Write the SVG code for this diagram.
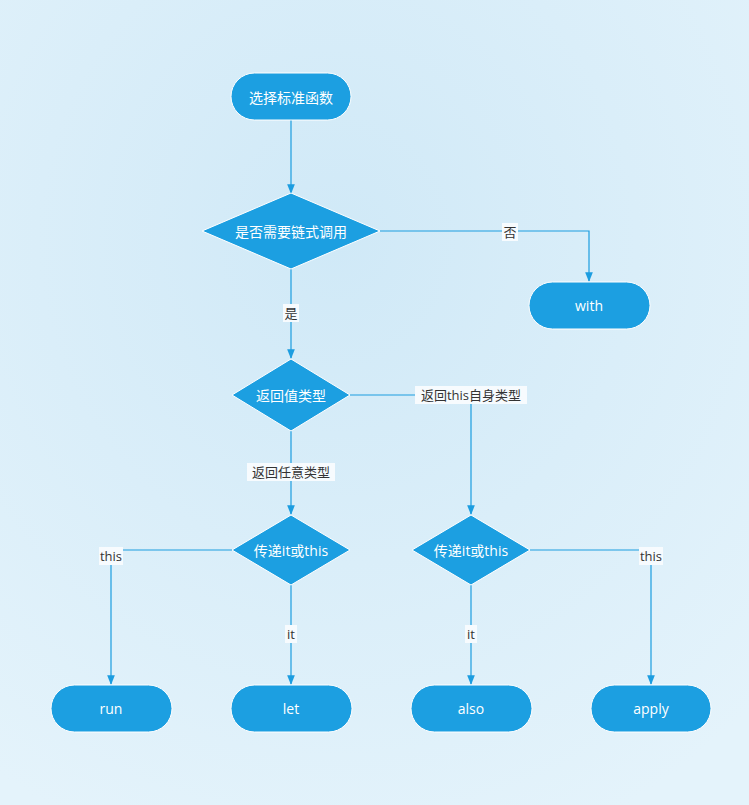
<svg xmlns="http://www.w3.org/2000/svg" width="749" height="805" viewBox="0 0 749 805">
<defs>
<radialGradient id="bg" cx="0.45" cy="0.3" r="0.8"><stop offset="0" stop-color="#d0e9f7"/><stop offset="1" stop-color="#e4f3fb"/></radialGradient>
<marker id="ar" viewBox="0 0 10 10" refX="9" refY="5" markerWidth="8" markerHeight="8" orient="auto"><path d="M0,1 L10,5 L0,9 z" fill="#1c9de0"/></marker>
<style>
.n{fill:#1c9fe1;stroke:#ffffff;stroke-width:1}
.t{fill:#fff;font-family:"Open Sans","Noto Sans CJK SC",sans-serif;font-size:14px;text-anchor:middle;dominant-baseline:central}
.c{fill:none;stroke:#1c9de0;stroke-width:1.2;marker-end:url(#ar)}
.lb{fill:#f7fbfe}
.lt{fill:#333;font-family:"Open Sans","Noto Sans CJK SC",sans-serif;font-size:13px;text-anchor:middle;dominant-baseline:central}
</style>
</defs>
<rect width="749" height="805" fill="url(#bg)"/>
<g id="connectors">
<path class="c" d="M291,120 V193"/>
<path class="c" d="M380,231 H589 V281"/>
<path class="c" d="M291,269 V358"/>
<path class="c" d="M350,395 H471 V514"/>
<path class="c" d="M291,431 V514"/>
<path class="c" d="M232,550 H111 V684"/>
<path class="c" d="M291,585 V684"/>
<path class="c" d="M471,585 V684"/>
<path class="c" d="M530,550 H651 V684"/>
<rect class="lb" x="502" y="223" width="16" height="18"/><text class="lt" x="510" y="232">否</text>
<rect class="lb" x="283" y="304" width="16" height="18"/><text class="lt" x="291" y="313">是</text>
<rect class="lb" x="415" y="386" width="112" height="18"/><text class="lt" x="471" y="395">返回this自身类型</text>
<rect class="lb" x="247" y="463" width="88" height="18"/><text class="lt" x="291" y="472">返回任意类型</text>
<rect class="lb" x="99" y="547" width="24" height="18"/><text class="lt" x="111" y="556">this</text>
<rect class="lb" x="639" y="547" width="24" height="18"/><text class="lt" x="651" y="556">this</text>
<rect class="lb" x="285" y="625" width="12" height="18"/><text class="lt" x="291" y="634">it</text>
<rect class="lb" x="465" y="625" width="12" height="18"/><text class="lt" x="471" y="634">it</text>
</g>
<g id="start"><rect class="n" x="231" y="73" width="120" height="47" rx="23.5"/><text class="t" x="291" y="97">选择标准函数</text></g>
<g id="chain"><path class="n" d="M291,193 L380,231 L291,269 L202,231 z"/><text class="t" x="291" y="231">是否需要链式调用</text></g>
<g id="with"><rect class="n" x="529" y="282" width="121" height="47" rx="23.5"/><text class="t" x="589" y="305">with</text></g>
<g id="ret"><path class="n" d="M291,359 L350,395 L291,431 L232,395 z"/><text class="t" x="291" y="395">返回值类型</text></g>
<g id="pass1"><path class="n" d="M291,515 L350,550 L291,585 L232,550 z"/><text class="t" x="291" y="550">传递it或this</text></g>
<g id="pass2"><path class="n" d="M471,515 L530,550 L471,585 L412,550 z"/><text class="t" x="471" y="550">传递it或this</text></g>
<g id="run"><rect class="n" x="51" y="685" width="121" height="47" rx="23.5"/><text class="t" x="111" y="708">run</text></g>
<g id="let"><rect class="n" x="231" y="685" width="121" height="47" rx="23.5"/><text class="t" x="291" y="708">let</text></g>
<g id="also"><rect class="n" x="411" y="685" width="121" height="47" rx="23.5"/><text class="t" x="471" y="708">also</text></g>
<g id="apply"><rect class="n" x="591" y="685" width="120" height="47" rx="23.5"/><text class="t" x="651" y="708">apply</text></g>
</svg>
